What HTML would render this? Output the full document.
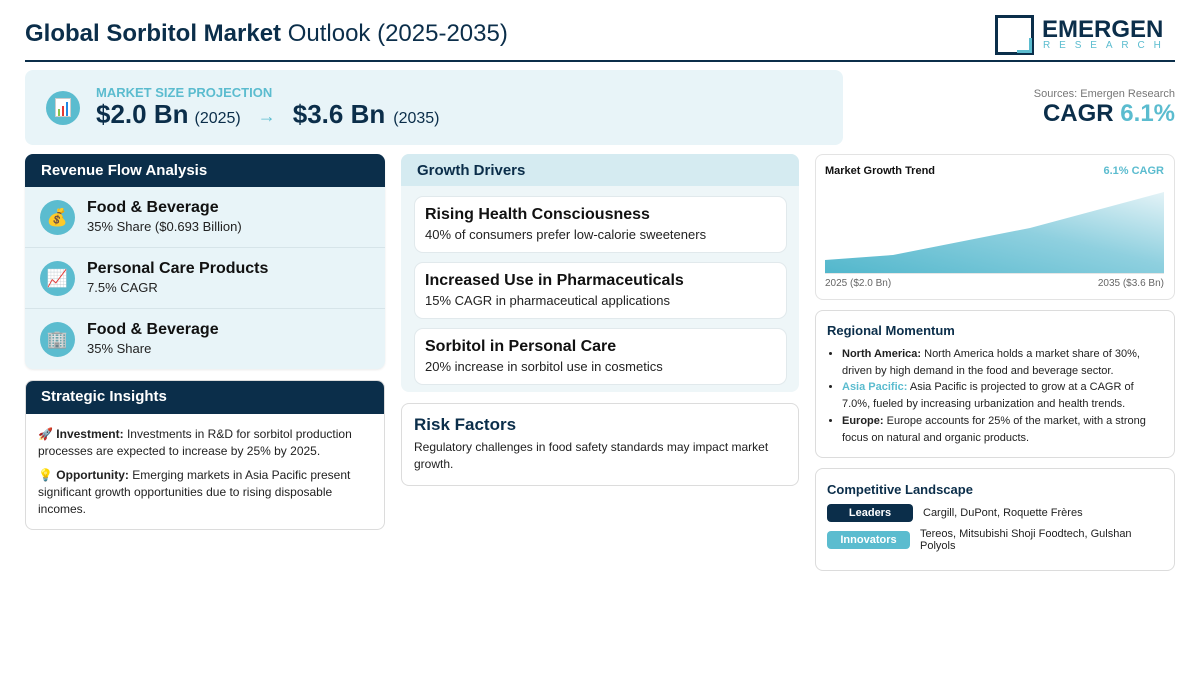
<!DOCTYPE html>
<html><head><meta charset="utf-8">
<style>
*{box-sizing:border-box;margin:0;padding:0}
body{width:1200px;height:700px;background:#fff;font-family:"Liberation Sans",Arial,sans-serif;position:relative;overflow:hidden;color:#111}
.abs{position:absolute}
.navy{color:#0b2e4a}
.teal{color:#5bbccf}
.card{position:absolute;border-radius:8px;overflow:hidden}
.hdr{background:#0b2e4a;color:#fff;font-weight:bold;font-size:15px;padding-left:16px;height:33px;line-height:33px}
.ic{position:absolute;width:35px;height:35px;border-radius:50%;background:#5bbccf;text-align:center;line-height:35px;font-size:17px}
.rt{position:absolute;font-weight:bold;font-size:16px;color:#111}
.rs{position:absolute;font-size:13px;color:#222}
.gd{position:absolute;left:13px;width:373px;height:57px;background:#fff;border:1px solid #e1e9ec;border-radius:9px}
.gd b{position:absolute;left:10px;top:9px;font-size:16px;color:#111}
.gd span{position:absolute;left:10px;top:30px;font-size:13px;color:#222}
</style></head><body>

<div class="abs navy" style="left:25px;top:19px;font-size:24px;line-height:30px;white-space:nowrap"><b>Global Sorbitol Market</b> Outlook (2025-2035)</div>
<div class="abs" style="left:25px;top:60px;width:1150px;height:2px;background:#0b2e4a"></div>

<!-- logo -->
<div class="abs" style="left:995px;top:15px;width:39px;height:40px;border:3px solid #0b2e4a"></div>
<div class="abs" style="left:1029px;top:38px;width:3px;height:15px;background:#5bbccf"></div>
<div class="abs" style="left:1017px;top:50px;width:15px;height:3px;background:#5bbccf"></div>
<div class="abs navy" style="left:1042px;top:18px;font-size:24px;font-weight:bold;line-height:24px;white-space:nowrap">EMERGEN</div>
<div class="abs teal" style="left:1043px;top:40px;font-size:10px;line-height:11px;letter-spacing:8.9px;white-space:nowrap">RESEARCH</div>

<!-- market size box -->
<div class="abs" style="left:25px;top:70px;width:818px;height:75px;background:#e8f4f8;border-radius:8px"></div>
<div class="abs" style="left:46px;top:91px;width:34px;height:34px;border-radius:50%;background:#5bbccf"></div>
<div class="abs" style="left:55px;top:98px;width:16px;height:19px;background:#fff;border:1px solid #ccc"></div>
<div class="abs" style="left:58px;top:109px;width:2px;height:7px;background:#8bc34a"></div>
<div class="abs" style="left:62px;top:106px;width:2px;height:10px;background:#e53935"></div>
<div class="abs" style="left:66px;top:102px;width:2px;height:14px;background:#1e88e5"></div>
<div class="abs teal" style="left:96px;top:85px;font-size:13px;font-weight:bold;line-height:15px">MARKET SIZE PROJECTION</div>
<div class="abs navy" style="left:96px;top:99px;white-space:nowrap;line-height:30px"><b style="font-size:26px">$2.0 Bn</b><span style="font-size:16px;margin-left:6px">(2025)</span><span class="teal" style="font-size:18px;margin:0 17px 0 17px;position:relative;top:-1px">→</span><b style="font-size:26px">$3.6 Bn</b><span style="font-size:16px;margin-left:8px">(2035)</span></div>

<div class="abs" style="right:25px;top:88px;font-size:11px;color:#777;line-height:13px">Sources: Emergen Research</div>
<div class="abs navy" style="right:25px;top:100px;font-size:24px;font-weight:bold;line-height:28px">CAGR <span class="teal">6.1%</span></div>

<!-- Revenue Flow -->
<div class="card" style="left:25px;top:154px;width:360px;height:215px;background:#e8f4f8;box-shadow:0 1px 2px rgba(0,0,0,0.08)">
  <div class="hdr">Revenue Flow Analysis</div>
  <div class="abs" style="left:0;top:93px;width:360px;height:1px;background:#d6e4e9"></div>
  <div class="abs" style="left:0;top:154px;width:360px;height:1px;background:#d6e4e9"></div>
  <div class="ic" style="left:15px;top:46px">💰</div>
  <div class="rt" style="left:62px;top:45px">Food &amp; Beverage</div>
  <div class="rs" style="left:62px;top:65px">35% Share ($0.693 Billion)</div>
  <div class="ic" style="left:15px;top:107px">📈</div>
  <div class="rt" style="left:62px;top:106px">Personal Care Products</div>
  <div class="rs" style="left:62px;top:126px">7.5% CAGR</div>
  <div class="ic" style="left:15px;top:168px">🏢</div>
  <div class="rt" style="left:62px;top:167px">Food &amp; Beverage</div>
  <div class="rs" style="left:62px;top:187px">35% Share</div>
</div>

<!-- Strategic Insights -->
<div class="card" style="left:25px;top:380px;width:360px;height:150px;background:#fff;border:1px solid #dcdcdc">
  <div class="hdr" style="margin:-1px -1px 0 -1px;height:34px;line-height:34px">Strategic Insights</div>
  <div class="abs" style="left:12px;top:45px;width:336px;font-size:12px;line-height:17px;color:#222">🚀 <b>Investment:</b> Investments in R&amp;D for sorbitol production processes are expected to increase by 25% by 2025.</div>
  <div class="abs" style="left:12px;top:86px;width:336px;font-size:12px;line-height:17px;color:#222">💡 <b>Opportunity:</b> Emerging markets in Asia Pacific present significant growth opportunities due to rising disposable incomes.</div>
</div>

<!-- Growth Drivers -->
<div class="card" style="left:401px;top:154px;width:398px;height:238px;background:#eef6f8">
  <div style="background:#d5ebf1;height:32px;line-height:33px;padding-left:16px;font-weight:bold;font-size:15px;color:#0b2e4a">Growth Drivers</div>
  <div class="gd" style="top:42px"><b>Rising Health Consciousness</b><span>40% of consumers prefer low-calorie sweeteners</span></div>
  <div class="gd" style="top:108px"><b>Increased Use in Pharmaceuticals</b><span>15% CAGR in pharmaceutical applications</span></div>
  <div class="gd" style="top:174px"><b>Sorbitol in Personal Care</b><span>20% increase in sorbitol use in cosmetics</span></div>
</div>

<!-- Risk Factors -->
<div class="card" style="left:401px;top:403px;width:398px;height:83px;background:#fff;border:1px solid #dcdcdc">
  <div class="abs navy" style="left:12px;top:11px;font-size:17px;font-weight:bold">Risk Factors</div>
  <div class="abs" style="left:12px;top:35px;width:370px;font-size:12px;line-height:17px;color:#222">Regulatory challenges in food safety standards may impact market growth.</div>
</div>

<!-- Market Growth Trend -->
<div class="card" style="left:815px;top:154px;width:360px;height:146px;background:#fff;border:1px solid #e3e3e3">
  <div class="abs" style="left:9px;top:10px;font-size:11px;font-weight:bold;color:#111">Market Growth Trend</div>
  <div class="abs teal" style="right:10px;top:10px;font-size:11px;font-weight:bold">6.1% CAGR</div>
  <svg class="abs" style="left:0;top:0" width="360" height="146">
    <defs><linearGradient id="g" x1="0" y1="1" x2="1" y2="0">
      <stop offset="0" stop-color="#52b7cc"/><stop offset="0.55" stop-color="#8fd0df"/><stop offset="1" stop-color="#e4f3f7"/></linearGradient></defs>
    <polygon points="9,105 77,100 214,73 348,37 348,118 9,118" fill="url(#g)"/>
    <line x1="9" y1="118.5" x2="348" y2="118.5" stroke="#e6e6e6" stroke-width="1"/>
  </svg>
  <div class="abs" style="left:9px;top:123px;font-size:10px;color:#666">2025 ($2.0 Bn)</div>
  <div class="abs" style="right:10px;top:123px;font-size:10px;color:#666">2035 ($3.6 Bn)</div>
</div>

<!-- Regional Momentum -->
<div class="card" style="left:815px;top:310px;width:360px;height:148px;background:#fff;border:1px solid #dcdcdc">
  <div class="abs navy" style="left:11px;top:12px;font-size:13px;font-weight:bold">Regional Momentum</div>
  <ul class="abs" style="left:26px;top:35px;width:320px;font-size:11px;line-height:16.7px;color:#222">
    <li><b>North America:</b> North America holds a market share of 30%, driven by high demand in the food and beverage sector.</li>
    <li><b class="teal">Asia Pacific:</b> Asia Pacific is projected to grow at a CAGR of 7.0%, fueled by increasing urbanization and health trends.</li>
    <li><b>Europe:</b> Europe accounts for 25% of the market, with a strong focus on natural and organic products.</li>
  </ul>
</div>

<!-- Competitive Landscape -->
<div class="card" style="left:815px;top:468px;width:360px;height:103px;background:#fff;border:1px solid #dcdcdc">
  <div class="abs navy" style="left:11px;top:13px;font-size:13px;font-weight:bold">Competitive Landscape</div>
  <div class="abs" style="left:11px;top:35px;width:86px;height:18px;border-radius:4px;background:#0b2e4a;color:#fff;font-size:11px;font-weight:bold;text-align:center;line-height:18px">Leaders</div>
  <div class="abs" style="left:107px;top:38px;font-size:11px;color:#222">Cargill, DuPont, Roquette Frères</div>
  <div class="abs" style="left:11px;top:62px;width:83px;height:18px;border-radius:4px;background:#5bbccf;color:#fff;font-size:11px;font-weight:bold;text-align:center;line-height:18px">Innovators</div>
  <div class="abs" style="left:104px;top:59px;width:240px;font-size:11px;line-height:12px;color:#222">Tereos, Mitsubishi Shoji Foodtech, Gulshan Polyols</div>
</div>

</body></html>
